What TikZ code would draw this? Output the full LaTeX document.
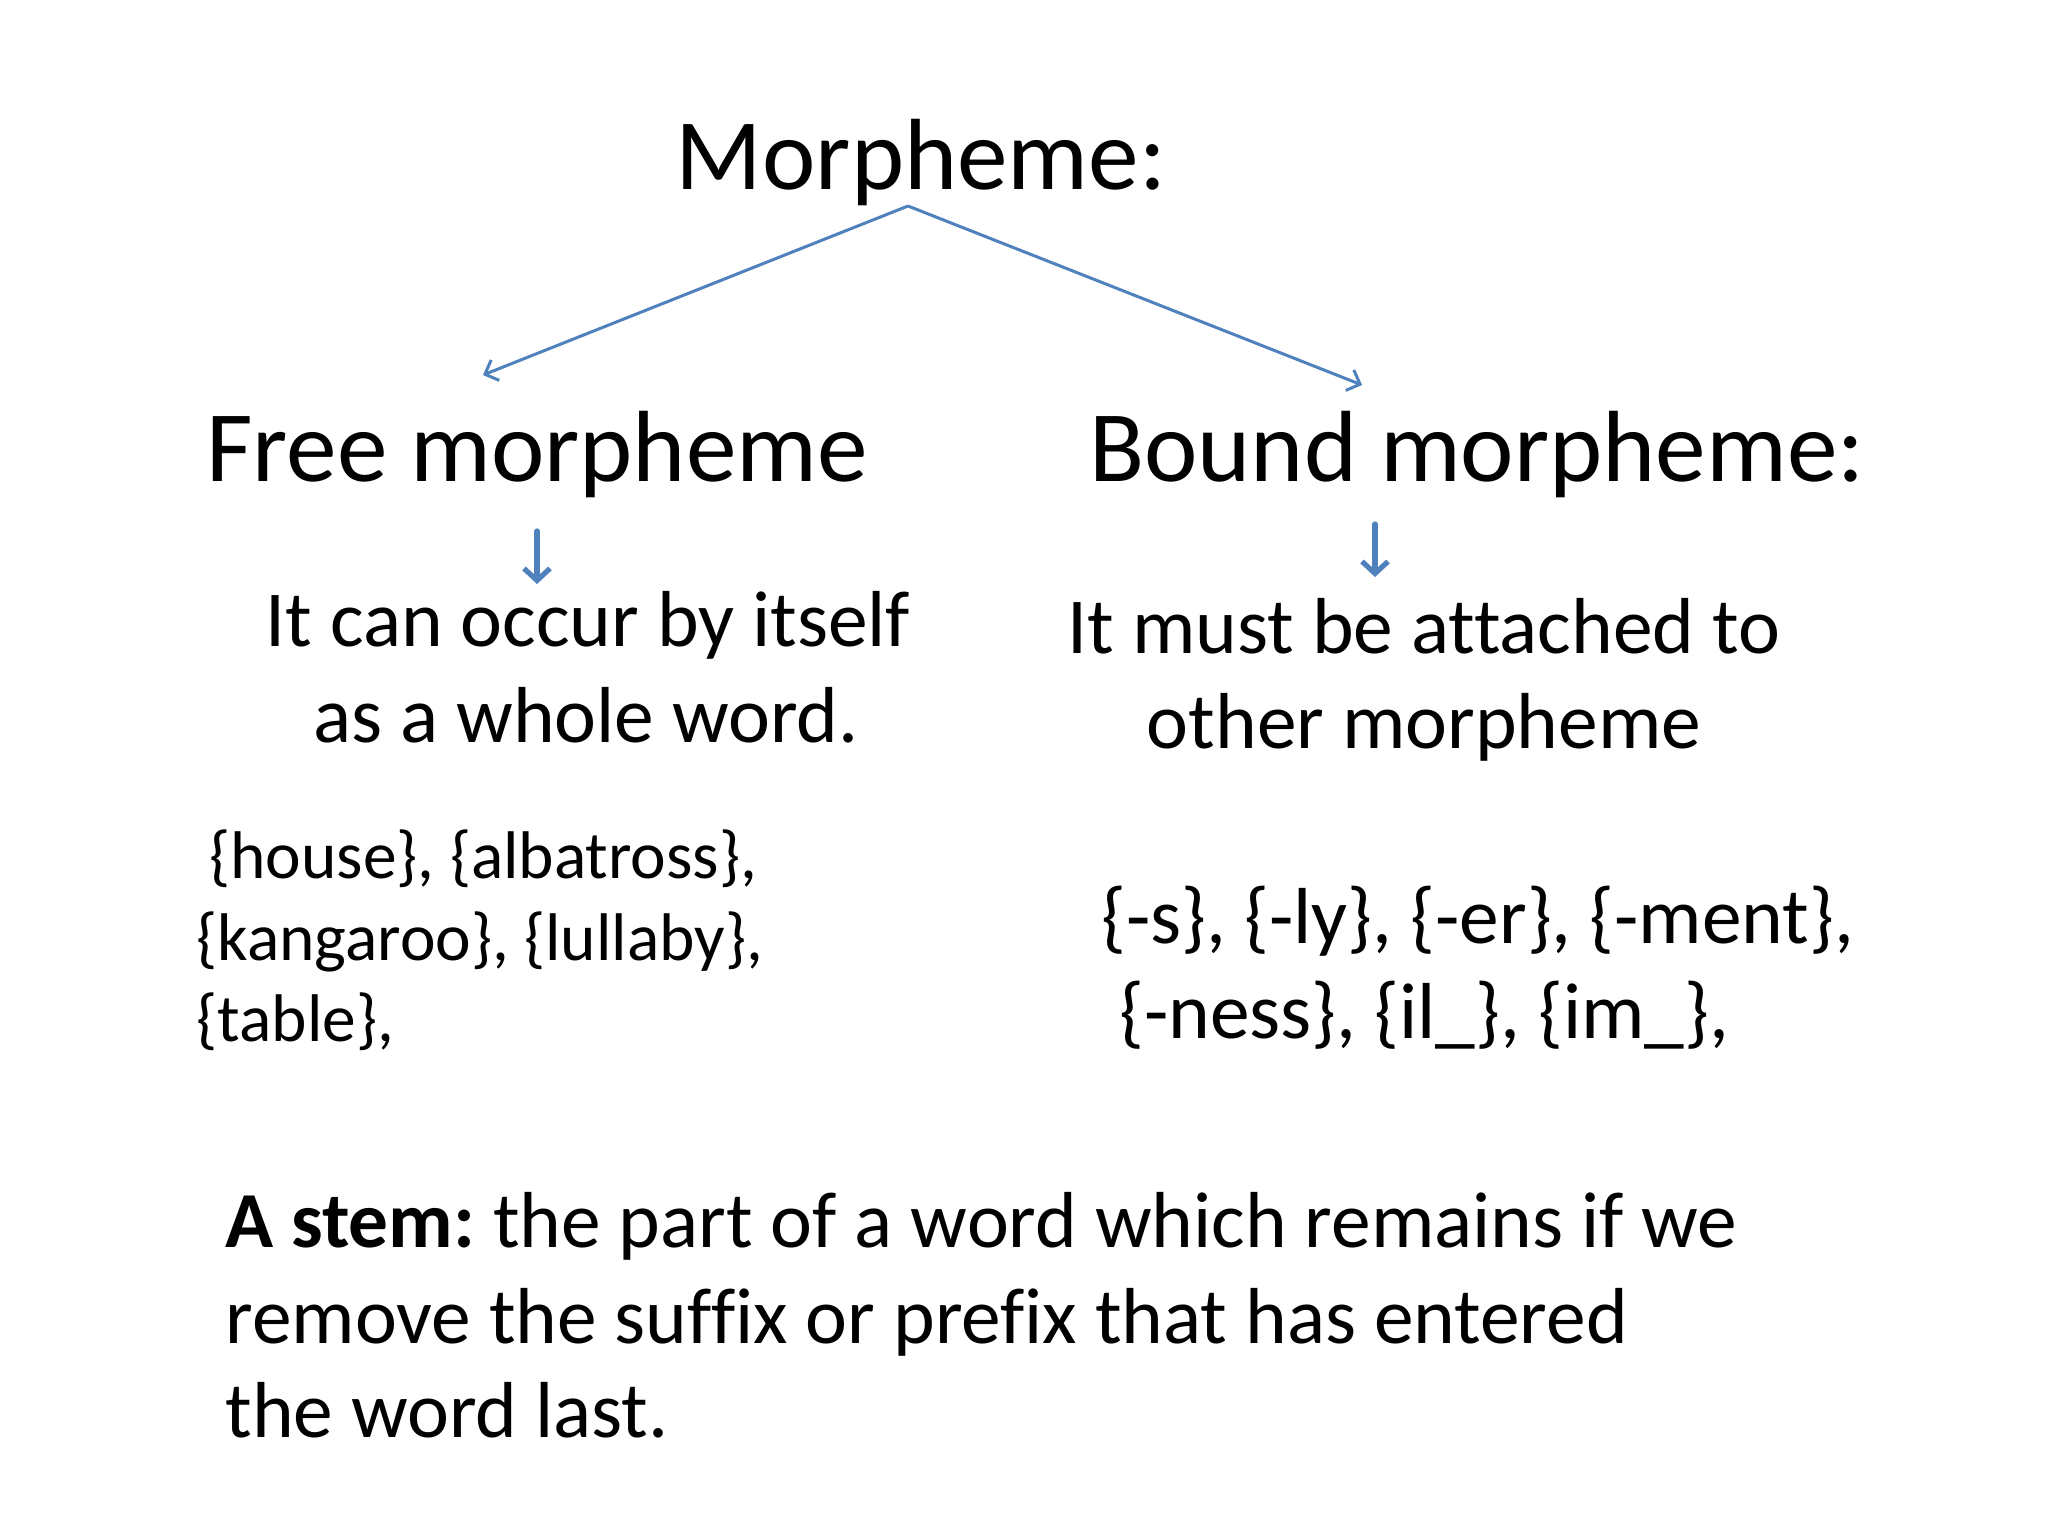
\documentclass[tikz,border=0pt]{standalone}
\usepackage{fontspec}
\setmainfont{Carlito}[Ligatures=NoCommon]
\usetikzlibrary{arrows.meta}
\definecolor{arrowblue}{RGB}{79,129,189}

\begin{document}
\begin{tikzpicture}[x=0.5pt,y=0.5pt,yscale=-1,xscale=1]
		\useasboundingbox (0,0) rectangle (2048,1536);
		\tikzset{
			headtext/.style={anchor=base,inner sep=0pt,font=\fontsize{50.6}{60}\selectfont},
			bodytext/.style={anchor=base,inner sep=0pt,font=\fontsize{39.7}{47.6}\selectfont},
			listtext/.style={anchor=base west,inner sep=0pt,font=\fontsize{33.7}{40.5}\selectfont},
			branch/.style={draw=arrowblue,line width=1.5pt,-{Straight Barb[length=5.5pt,width=11pt]}},
			pointer/.style={draw=arrowblue,line width=2.6pt,line cap=round,-{Straight Barb[length=6pt,width=13pt]}}
		}
		
		% Text Node
		\node [headtext] (morph) at (921,189) {Morpheme:};
		% Text Node
		\node [headtext] (free) at (537,481) {Free morpheme};
		% Text Node
		\node [headtext] (bound) at (1477,481) {Bound morpheme:};
		
		%Straight Lines [branches]
		\coordinate (apex) at (908,206);
		\coordinate (freetop) at (483,375);
		\coordinate (boundtop) at (1362,385);
		\draw [branch] (apex) -- (freetop);
		\draw [branch] (apex) -- (boundtop);
		
		% Text Node
		\node [bodytext] (freedef1) at (588,646) {It can occur by itself};
		\node [bodytext] (freedef2) at (586,742) {as a whole word.};
		% Text Node
		\node [bodytext] (bounddef1) at (1424,653) {It must be attached to};
		\node [bodytext] (bounddef2) at (1424,748) {other morpheme};
		
		%Straight Lines [pointers]
		\coordinate (freeptr) at (537,531);
		\coordinate (boundptr) at (1375,524);
		\draw [pointer] (freeptr) -- ++(0,53);
		\draw [pointer] (boundptr) -- ++(0,53);
		
		% Text Node
		\node [listtext] (freeex1) at (209,878) {\{house\}, \{albatross\},};
		\node [listtext] (freeex2) at (196,960) {\{kangaroo\}, \{lullaby\},};
		\node [listtext] (freeex3) at (196,1041) {\{table\},};
		% Text Node
		\node [bodytext,anchor=base west] (boundex1) at (1101,943) {\{-s\}, \{-ly\}, \{-er\}, \{-ment\},};
		\node [bodytext,anchor=base west] (boundex2) at (1119,1038) {\{-ness\}, \{il\_\}, \{im\_\},};
		
		% Text Node
		\node [bodytext,anchor=base west] (stem1) at (225,1247) {\textbf{A stem:}~the part of a word which remains if we};
		\node [bodytext,anchor=base west] (stem2) at (225,1343) {remove the suffix or prefix that has entered};
		\node [bodytext,anchor=base west] (stem3) at (225,1437) {the word last.};
		
\end{tikzpicture}
\end{document}
